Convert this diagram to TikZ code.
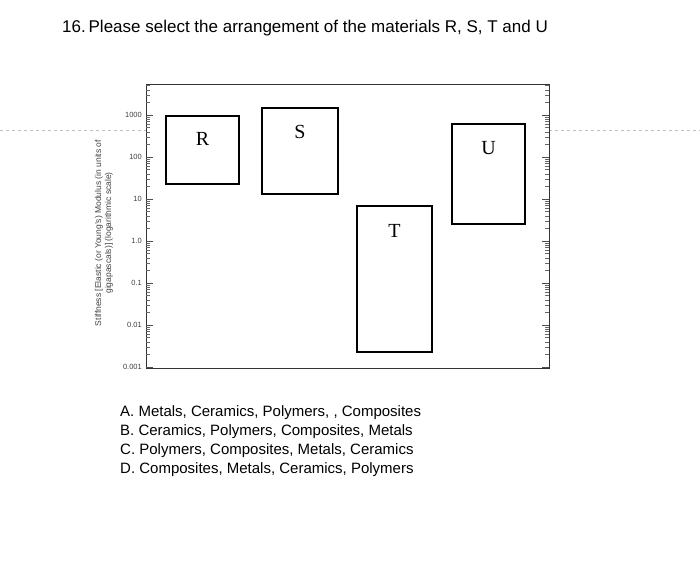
\documentclass[tikz,border=0pt]{standalone}
\usepackage{fontspec}
\setmainfont{Liberation Sans}
\newfontfamily\serifbox{Liberation Serif}
\begin{document}
\begin{tikzpicture}[x=1pt,y=-1pt,
  mat/.style={draw,line width=1.1pt},
  lbl/.style={font=\serifbox\fontsize{20}{20}\selectfont},
  tl/.style={font=\fontsize{7.5}{8}\selectfont,text=black!75,anchor=east,inner sep=1pt},
  opt/.style={font=\fontsize{15}{17}\selectfont,anchor=west,inner sep=0pt}]
\useasboundingbox (0,0) rectangle (700,575);
\draw[black!25,dashed,line width=0.4pt] (0,130) -- (146,130) (549,130) -- (700,130);
\node[anchor=west,inner sep=0pt,font=\fontsize{17}{19}\selectfont] (title) at (62,28) {16.\,Please select the arrangement of the materials R, S, T and U};
% frame
\draw[line width=0.9pt,black!80] (146,84) rectangle (549,368);
% ticks
\foreach \d [count=\i from 0] in {1000,100,10,1.0,0.1,0.01,0.001}{
  \pgfmathsetmacro\yy{115+42*\i}
  \draw[black!70] (146,\yy) -- (153,\yy) (549,\yy) -- (542,\yy);
  \node[tl] at (143,\yy) {\d};
}
\foreach \i in {-1,0,...,5}{
  \foreach \m in {2,...,9}{
    \pgfmathsetmacro\yy{115+42*\i+42-42*log10(\m)}
    \pgfmathparse{(\yy>84)?1:0}
    \ifnum\pgfmathresult=1
      \draw[black!60,line width=0.3pt] (146,\yy) -- (150,\yy) (549,\yy) -- (545,\yy);
    \fi
  }
}
\node[rotate=90,font=\fontsize{8.5}{10}\selectfont,text=black!75,align=center] (ylab) at (104,233) {Stiffness [Elastic (or Young's) Modulus (in units of\\ gigapascals)] (logarithmic scale)};
% boxes
\node[mat,minimum width=73,minimum height=68,inner sep=0pt] (R) at (202.5,150) {};
\node[lbl] at (202.5,139) {R};
\node[mat,minimum width=76,minimum height=86,inner sep=0pt] (S) at (300,151) {};
\node[lbl] at (300,132) {S};
\node[mat,minimum width=75,minimum height=146,inner sep=0pt] (T) at (394.5,279) {};
\node[lbl] at (394.5,231) {T};
\node[mat,minimum width=73,minimum height=100,inner sep=0pt] (U) at (488.5,174) {};
\node[lbl] at (488.5,148) {U};
% options
\node[opt] (a) at (120,413) {A.\ Metals, Ceramics, Polymers, , Composites};
\node[opt] (b) at (120,432) {B.\ Ceramics, Polymers, Composites, Metals};
\node[opt] (c) at (120,451) {C.\ Polymers, Composites, Metals, Ceramics};
\node[opt] (d) at (120,470) {D.\ Composites, Metals, Ceramics, Polymers};
\end{tikzpicture}
\end{document}
